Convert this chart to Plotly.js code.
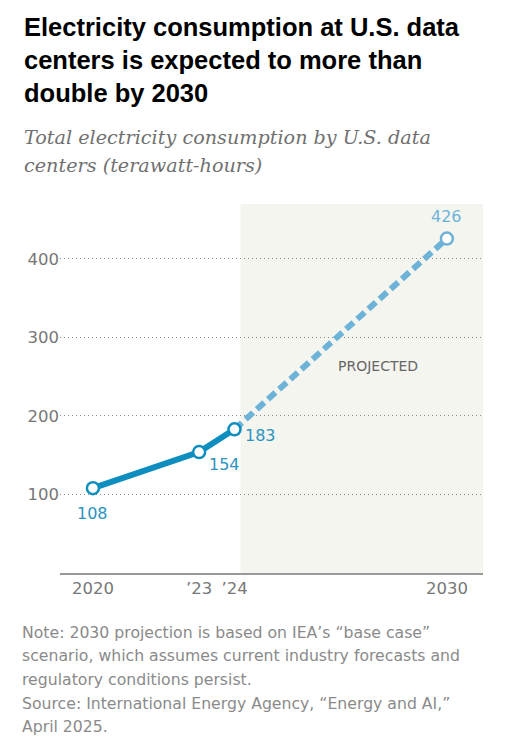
<!DOCTYPE html>
<html>
<head>
<meta charset="utf-8">
<script src="https://cdn.plot.ly/plotly-3.0.1.min.js"></script>
<style>
  html, body { margin: 0; padding: 0; background: #fff; }
  #chart { width: 507px; height: 745px; }
</style>
</head>
<body>
<div id="chart"></div>
<script>
// Historical consumption (TWh)
const histYears = [2020, 2023, 2024];
const histValues = [108, 154, 183];
// Projection from the latest actual year to 2030
const projYears = [2024, 2030];
const projValues = [183, 426];
// Axis ticks
const xTickVals = [2020, 2023, 2024, 2030];
const xTickText = ['2020', '\u201923', '\u201924', '2030'];
const yTickVals = [100, 200, 300, 400];

// Text blocks, one entry per line
const subtitleLines = ['Total electricity consumption by U.S. data', 'centers (terawatt-hours)'];
const noteLines = [
  'Note: 2030 projection is based on IEA\u2019s \u201cbase case\u201d',
  'scenario, which assumes current industry forecasts and',
  'regulatory conditions persist.',
  'Source: International Energy Agency, \u201cEnergy and AI,\u201d',
  'April 2025.'
];

const W = 507, H = 745;
const M = { l: 60, r: 24, t: 204, b: 172 };
const PW = W - M.l - M.r, PH = H - M.t - M.b;
// convert page pixels to paper coordinates
const px = v => (v - M.l) / PW;
const py = v => (H - M.b - v) / PH;

const darkBlue = '#0d8ebf';
const lightBlue = '#6db3d8';
const gray = '#777777';
const sans = 'DejaVu Sans, sans-serif';
const headSans = 'Liberation Sans, Arial, sans-serif';

const traces = [
  {
    x: projYears, y: projValues, mode: 'lines', type: 'scatter',
    line: { color: lightBlue, width: 6, dash: '10px,5px' },
    hoverinfo: 'skip'
  },
  {
    x: histYears, y: histValues, mode: 'lines+markers', type: 'scatter',
    line: { color: darkBlue, width: 6 },
    marker: { size: 12, color: '#fff', line: { color: darkBlue, width: 2.5 } },
    hoverinfo: 'skip'
  },
  {
    x: [projYears[1]], y: [projValues[1]], mode: 'markers', type: 'scatter',
    marker: { size: 12, color: '#fff', line: { color: lightBlue, width: 2.5 } },
    hoverinfo: 'skip'
  }
];

const labelFont = { family: sans, size: 16, color: '#2a93c0' };
const annotations = [
  // value labels
  { x: histYears[0], y: histValues[0], text: String(histValues[0]), xref: 'x', yref: 'y',
    showarrow: false, font: labelFont, yshift: -25 },
  { x: histYears[1], y: histValues[1], text: String(histValues[1]), xref: 'x', yref: 'y',
    showarrow: false, font: labelFont, xanchor: 'left', xshift: 8, yshift: -12 },
  { x: histYears[2], y: histValues[2], text: String(histValues[2]), xref: 'x', yref: 'y',
    showarrow: false, font: labelFont, xanchor: 'left', xshift: 8, yshift: -6 },
  { x: projYears[1], y: projValues[1], text: String(projValues[1]), xref: 'x', yref: 'y',
    showarrow: false, font: { family: sans, size: 16, color: lightBlue }, yshift: 22 },
  // projection region label
  { x: 2028.05, y: 264, text: 'PROJECTED', xref: 'x', yref: 'y', showarrow: false,
    font: { family: sans, size: 14, color: '#666' } },
  // headline
  { x: px(22), y: py(11), xref: 'paper', yref: 'paper', xanchor: 'left', yanchor: 'top',
    align: 'left', showarrow: false,
    text: '<b>Electricity consumption at U.S. data<br>centers is expected to more than<br>double by 2030</b>',
    font: { family: headSans, size: 25.5, color: '#000' } }
];

// subtitle, one annotation per line for tighter control of the leading
subtitleLines.forEach((t, i) => annotations.push({
  x: px(22), y: py(138 + i * 27), xref: 'paper', yref: 'paper',
  xanchor: 'left', yanchor: 'middle', align: 'left', showarrow: false,
  text: '<i>' + t + '</i>',
  font: { family: 'DejaVu Serif, serif', size: 19.2, color: '#707070' }
}));

// note and source lines
noteLines.forEach((t, i) => annotations.push({
  x: px(20), y: py(632 + i * 23.7), xref: 'paper', yref: 'paper',
  xanchor: 'left', yanchor: 'middle', align: 'left', showarrow: false,
  text: t,
  font: { family: sans, size: 15.7, color: '#8a8a8a' }
}));

const shapes = [
  { type: 'rect', xref: 'x', yref: 'paper', x0: 2024.17, x1: 2031.02, y0: 0, y1: 1,
    fillcolor: '#f5f5f0', line: { width: 0 }, layer: 'below' }
];

const layout = {
  width: W, height: H,
  margin: M,
  paper_bgcolor: '#fff', plot_bgcolor: 'rgba(0,0,0,0)',
  showlegend: false,
  xaxis: {
    range: [2019.07, 2031.02], tickvals: xTickVals, ticktext: xTickText,
    showgrid: false, zeroline: false, showline: true, linecolor: '#999', linewidth: 1.5,
    ticks: '', tickfont: { family: sans, size: 16.5, color: gray }, fixedrange: true
  },
  yaxis: {
    range: [0, 470], tickvals: yTickVals, showgrid: true, gridcolor: '#8a8a8a',
    griddash: '1px,3px', gridwidth: 1, zeroline: false, showline: false, ticks: '',
    tickfont: { family: sans, size: 16.5, color: gray }, fixedrange: true
  },
  shapes: shapes,
  annotations: annotations
};

Plotly.newPlot('chart', traces, layout, { displayModeBar: false, staticPlot: true });
</script>
</body>
</html>
